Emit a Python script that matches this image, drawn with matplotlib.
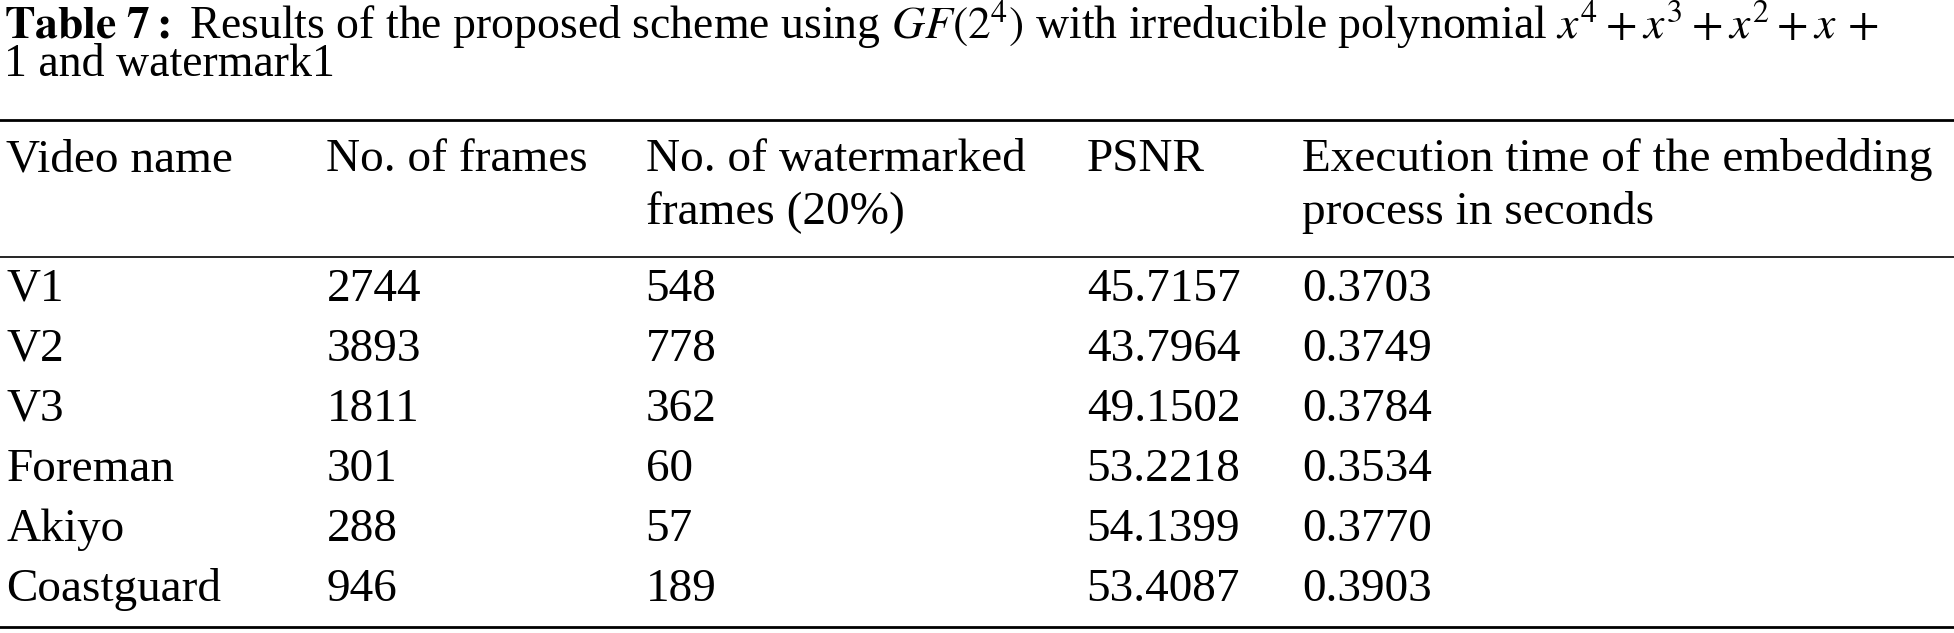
import matplotlib
matplotlib.use("Agg")
import matplotlib.pyplot as plt

plt.rcParams['font.family'] = ['Liberation Serif', 'DejaVu Serif']
plt.rcParams['mathtext.fontset'] = 'stix'

headers = [["Video name"], ["No. of frames"], ["No. of watermarked", "frames (20%)"],
           ["PSNR"], ["Execution time of the embedding", "process in seconds"]]
videos = ["V1", "V2", "V3", "Foreman", "Akiyo", "Coastguard"]
frames = ["2744", "3893", "1811", "301", "288", "946"]
marked = ["548", "778", "362", "60", "57", "189"]
psnr = ["45.7157", "43.7964", "49.1502", "53.2218", "54.1399", "53.4087"]
exec_time = ["0.3703", "0.3749", "0.3784", "0.3534", "0.3770", "0.3903"]

W, H = 1568.0, 507.0
col_x = [5, 262, 518, 872, 1045]
row_y = [232, 280, 328, 376, 424, 472]
fs = 34

fig = plt.figure(figsize=(19.54, 6.33), dpi=100)
ax = fig.add_axes([0, 0, 1, 1])
ax.set_xlim(0, W)
ax.set_ylim(H, 0)
ax.axis('off')

ax.text(3, 20, r"$\mathbf{Table\ 7{:}}$ Results of the proposed scheme using $\mathit{GF}(2^4)$ with irreducible polynomial $x^4 + x^3 + x^2 + x\, +$",
        fontsize=fs * 0.97, va='center', ha='left')
ax.text(3, 52, "1 and watermark1", fontsize=fs * 0.97, va='center', ha='left')

ax.plot([0, W], [96, 96], color='black', lw=2)
ax.plot([0, W], [206, 206], color='black', lw=1.2)
ax.plot([0, W], [502, 502], color='black', lw=2)

for x, lines in zip(col_x, headers):
    for i, t in enumerate(lines):
        ax.text(x, 128 + 42 * i, t, fontsize=fs, va='center', ha='left')

cols = [videos, frames, marked, psnr, exec_time]
for x, vals in zip(col_x, cols):
    for y, v in zip(row_y, vals):
        ax.text(x, y, v, fontsize=fs, va='center', ha='left')

fig.savefig("out.png", dpi=100)
